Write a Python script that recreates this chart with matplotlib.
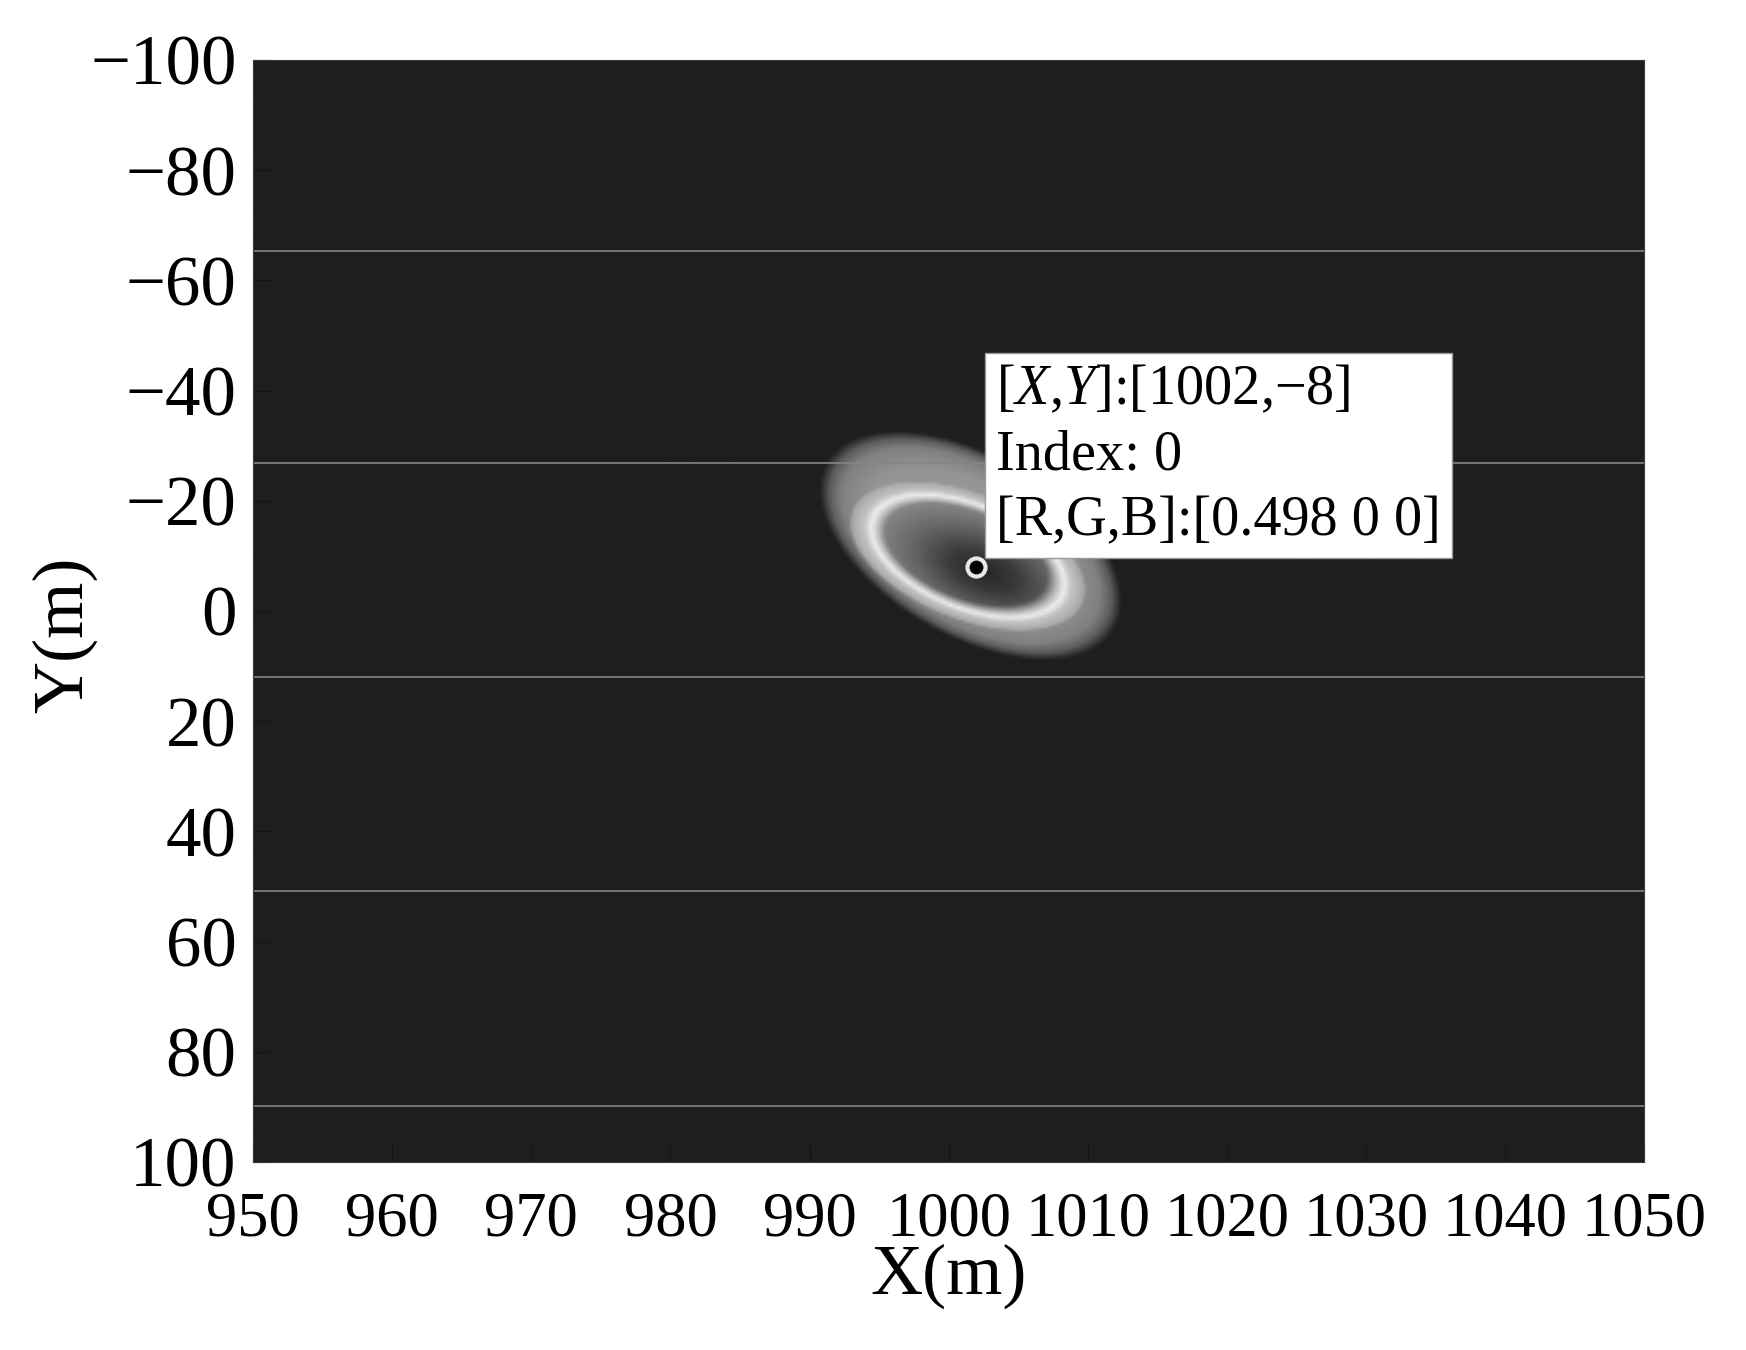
import numpy as np
import matplotlib
matplotlib.use("Agg")
import matplotlib.pyplot as plt

plt.rcParams['font.family'] = ['Liberation Serif', 'DejaVu Serif']
plt.rcParams['mathtext.fontset'] = 'custom'
plt.rcParams['mathtext.rm'] = 'Liberation Serif'
plt.rcParams['mathtext.it'] = 'Liberation Serif:italic'

# axes ranges and ticks
x_ticks = [950, 960, 970, 980, 990, 1000, 1010, 1020, 1030, 1040, 1050]
y_ticks = [-100, -80, -60, -40, -20, 0, 20, 40, 60, 80, 100]
# faint horizontal seam lines in the image (Y values)
seam_y = [-65.4, -26.9, 12.0, 50.8, 89.8]

# blob geometry (x, y in m; semi axes in y-units)
ring_center = (1001.4, -9.9)
ring_axes = (18.5, 9.4)
ring_tilt = 22
halo_center = (1001.6, -11.8)
halo_axes = (29.4, 16.0)
halo_tilt = 30
core_center = (1002.6, -7.1)
bg_level = 0.12
# grey levels against normalised radius
ring_r = [0.0, 0.8, 0.92, 1.0, 1.08, 1.2, 1.35]
ring_v = [0.0, 0.3, 0.72, 0.93, 0.76, 0.66, 0.0]
inner_r = [0.0, 0.35, 0.75, 1.1, 1.5]
inner_v = [0.15, 0.23, 0.4, 0.52, 0.56]
halo_r = [0.0, 0.7, 0.88, 0.96, 1.03]
halo_v = [0.62, 0.58, 0.5, 0.36, bg_level]

# data tip
tip_x, tip_y = 1002, -8
tip_text = "[$\\mathit{X}$,$\\mathit{Y}$]:[1002,\u22128]\nIndex: 0\n[R,G,B]:[0.498 0 0]"

fig = plt.figure(figsize=(17.46, 13.5), dpi=100)
ax = fig.add_axes([0.145, 0.1393, 0.7966, 0.8163])
pos = ax.get_position()
stretch = (pos.width * 1746 / 100) / (pos.height * 1350 / 200)

xs = np.arange(950, 1050.01, 0.2)
ys = np.arange(-100, 100.01, 0.5)
X, Y = np.meshgrid(xs, ys)


def ell_r(c, axes_, tilt):
    th = np.deg2rad(tilt)
    u = (X - c[0]) * stretch
    v = Y - c[1]
    a = u * np.cos(th) + v * np.sin(th)
    b = -u * np.sin(th) + v * np.cos(th)
    return np.sqrt((a / axes_[0]) ** 2 + (b / axes_[1]) ** 2)


r_ring = ell_r(ring_center, ring_axes, ring_tilt)
r_halo = ell_r(halo_center, halo_axes, halo_tilt)
r_core = ell_r(core_center, ring_axes, ring_tilt)

ring = np.interp(r_ring, ring_r, ring_v)
inner = np.where(r_ring < 1, np.interp(r_core, inner_r, inner_v), 0)
halo = np.where(r_ring >= 1, np.interp(r_halo, halo_r, halo_v, right=bg_level), 0)
Z = np.maximum.reduce([ring, inner, halo, np.full_like(X, bg_level)])

ax.imshow(Z, cmap='gray', vmin=0, vmax=1, extent=[950, 1050, 100, -100],
          origin='upper', aspect='auto', interpolation='bilinear')
for yy in seam_y:
    ax.axhline(yy, color='#858585', lw=1.2)

ax.set_xlim(950, 1050)
ax.set_ylim(100, -100)
ax.set_xticks(x_ticks)
ax.set_yticks(y_ticks)
ax.tick_params(axis='x', labelsize=45, direction='in', length=13, color='#141414', pad=21)
ax.tick_params(axis='y', labelsize=51, direction='in', length=13, color='#141414', pad=12)
for s in ax.spines.values():
    s.set_color('#3a3a3a')
ax.set_xlabel('X(m)', fontsize=52, labelpad=-4)
ax.set_ylabel('Y(m)', fontsize=52)
ax.yaxis.set_label_coords(-0.112, 0.478)

ax.plot([tip_x], [tip_y], 'o', ms=13, mfc='black', mec='#e8e8e8', mew=3, zorder=5)
ax.annotate(tip_text, xy=(tip_x, tip_y), xytext=(20, 20), textcoords='offset pixels',
            ha='left', va='bottom', fontsize=40.5, linespacing=1.33, zorder=6,
            bbox=dict(boxstyle='square,pad=0.2', fc='white', ec='#9a9a9a', lw=1))

fig.savefig('out.png', dpi=100)
